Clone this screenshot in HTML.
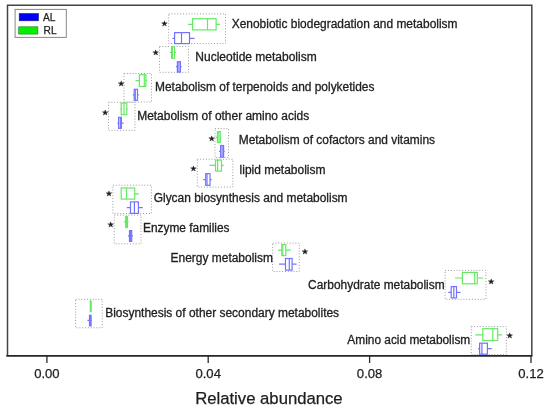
<!DOCTYPE html>
<html><head><meta charset="utf-8"><style>
html,body{margin:0;padding:0;background:#fff;}
svg{display:block;font-family:"Liberation Sans",Arial,sans-serif;}
</style></head><body>
<svg width="550" height="412" viewBox="0 0 550 412">
<rect width="550" height="412" fill="#fff"/>
<path d="M7.5 355.9V5.2H531.8V355.9" fill="none" stroke="#444" stroke-width="1.5"/>
<path d="M6.3 355.9H532.4" stroke="#262626" stroke-width="1.7"/>
<rect x="15.1" y="9.4" width="51.2" height="28.0" fill="#fff" stroke="#888" stroke-width="1"/>
<rect x="19.2" y="13.5" width="19.3" height="7.3" fill="#0000f0" stroke="#1a1a80" stroke-width="0.6"/>
<rect x="18.7" y="26.8" width="19.2" height="7.3" fill="#00f000" stroke="#1a801a" stroke-width="0.6"/>
<text x="43.0" y="20.5" font-size="10.2" fill="#1e1e1e" stroke="#1e1e1e" stroke-width="0.25">AL</text>
<text x="43.6" y="33.6" font-size="10.2" fill="#1e1e1e" stroke="#1e1e1e" stroke-width="0.25">RL</text>
<rect x="168.7" y="13.9" width="56.8" height="29.6" fill="none" stroke="#9c9c9c" stroke-width="1" stroke-dasharray="1 1.85"/>
<path d="M188.0 24.3H192.6M216.1 24.3H220.0" stroke="#66e866" stroke-width="1.2"/>
<rect x="192.6" y="18.7" width="23.5" height="11.2" fill="none" stroke="#66e866" stroke-width="1.2"/>
<path d="M207.5 18.7V29.9" stroke="#66e866" stroke-width="1.2"/>
<path d="M172.5 38.3H174.6M189.5 38.3H194.5" stroke="#7373ff" stroke-width="1.2"/>
<rect x="174.6" y="32.6" width="14.9" height="11.0" fill="none" stroke="#7373ff" stroke-width="1.2"/>
<path d="M181.5 32.6V43.6" stroke="#7373ff" stroke-width="1.2"/>
<text transform="translate(164.1 23.9) scale(1.0 0.92)" x="0.3" y="2.6" text-anchor="middle" font-size="7.7" font-family="DejaVu Sans, sans-serif" fill="#1e1e1e" stroke="#1e1e1e" stroke-width="0.35" stroke-linejoin="round">★</text>
<text x="231.7" y="28.3" font-size="12" fill="#1e1e1e" stroke="#1e1e1e" stroke-width="0.3" textLength="225.83" lengthAdjust="spacingAndGlyphs">Xenobiotic biodegradation and metabolism</text>
<rect x="159.5" y="46.5" width="29.0" height="25.8" fill="none" stroke="#9c9c9c" stroke-width="1" stroke-dasharray="1 1.85"/>
<path d="M169.8 52.3H171.6M174.5 52.3H176.1" stroke="#66e866" stroke-width="1.2"/>
<rect x="171.6" y="46.8" width="2.9" height="11.5" fill="none" stroke="#66e866" stroke-width="1.2"/>
<path d="M172.4 46.8V58.3" stroke="#66e866" stroke-width="1.2"/>
<path d="M175.9 66.7H177.4M180.4 66.7H181.6" stroke="#7373ff" stroke-width="1.2"/>
<rect x="177.4" y="61.7" width="3.0" height="10.4" fill="none" stroke="#7373ff" stroke-width="1.2"/>
<path d="M178.9 61.7V72.1" stroke="#7373ff" stroke-width="1.2"/>
<text transform="translate(155.5 52.8) scale(1.0 0.92)" x="0.3" y="2.6" text-anchor="middle" font-size="7.7" font-family="DejaVu Sans, sans-serif" fill="#1e1e1e" stroke="#1e1e1e" stroke-width="0.35" stroke-linejoin="round">★</text>
<text x="195.3" y="60.9" font-size="12" fill="#1e1e1e" stroke="#1e1e1e" stroke-width="0.3" textLength="121.39" lengthAdjust="spacingAndGlyphs">Nucleotide metabolism</text>
<rect x="124.0" y="73.5" width="27.5" height="28.5" fill="none" stroke="#9c9c9c" stroke-width="1" stroke-dasharray="1 1.85"/>
<path d="M135.5 80.7H139.4M145.9 80.7H147.2" stroke="#66e866" stroke-width="1.2"/>
<rect x="139.4" y="74.7" width="6.5" height="11.7" fill="none" stroke="#66e866" stroke-width="1.2"/>
<path d="M144.3 74.7V86.4" stroke="#66e866" stroke-width="1.2"/>
<path d="M132.9 94.9H134.2M137.5 94.9H138.7" stroke="#7373ff" stroke-width="1.2"/>
<rect x="134.2" y="89.3" width="3.3" height="11.0" fill="none" stroke="#7373ff" stroke-width="1.2"/>
<path d="M135.3 89.3V100.3" stroke="#7373ff" stroke-width="1.2"/>
<text transform="translate(121.0 83.8) scale(1.0 0.92)" x="0.3" y="2.6" text-anchor="middle" font-size="7.7" font-family="DejaVu Sans, sans-serif" fill="#1e1e1e" stroke="#1e1e1e" stroke-width="0.35" stroke-linejoin="round">★</text>
<text x="155.0" y="91.0" font-size="12" fill="#1e1e1e" stroke="#1e1e1e" stroke-width="0.3" textLength="219.40" lengthAdjust="spacingAndGlyphs">Metabolism of terpenoids and polyketides</text>
<rect x="108.5" y="102.3" width="26.5" height="28.0" fill="none" stroke="#9c9c9c" stroke-width="1" stroke-dasharray="1 1.85"/>
<path d="M120.0 109.0H121.2M126.8 109.0H127.6" stroke="#66e866" stroke-width="1.2"/>
<rect x="121.2" y="103.1" width="5.6" height="11.6" fill="none" stroke="#66e866" stroke-width="1.2"/>
<path d="M124.0 103.1V114.7" stroke="#66e866" stroke-width="1.2"/>
<path d="M117.4 123.2H118.6M121.4 123.2H123.6" stroke="#7373ff" stroke-width="1.2"/>
<rect x="118.6" y="117.3" width="2.8" height="11.0" fill="none" stroke="#7373ff" stroke-width="1.2"/>
<path d="M120.3 117.3V128.3" stroke="#7373ff" stroke-width="1.2"/>
<text transform="translate(105.0 112.3) scale(1.0 0.92)" x="0.3" y="2.6" text-anchor="middle" font-size="7.7" font-family="DejaVu Sans, sans-serif" fill="#1e1e1e" stroke="#1e1e1e" stroke-width="0.35" stroke-linejoin="round">★</text>
<text x="137.2" y="119.6" font-size="12" fill="#1e1e1e" stroke="#1e1e1e" stroke-width="0.3" textLength="172.05" lengthAdjust="spacingAndGlyphs">Metabolism of other amino acids</text>
<rect x="215.0" y="128.5" width="13.5" height="29.0" fill="none" stroke="#9c9c9c" stroke-width="1" stroke-dasharray="1 1.85"/>
<path d="M216.0 137.4H217.4M220.3 137.4H221.2" stroke="#66e866" stroke-width="1.2"/>
<rect x="217.4" y="131.6" width="2.9" height="10.9" fill="none" stroke="#66e866" stroke-width="1.2"/>
<path d="M218.9 131.6V142.5" stroke="#66e866" stroke-width="1.2"/>
<path d="M219.1 151.3H220.6M223.6 151.3H224.6" stroke="#7373ff" stroke-width="1.2"/>
<rect x="220.6" y="145.5" width="3.0" height="11.6" fill="none" stroke="#7373ff" stroke-width="1.2"/>
<path d="M222.1 145.5V157.1" stroke="#7373ff" stroke-width="1.2"/>
<text transform="translate(211.5 138.8) scale(1.0 0.92)" x="0.3" y="2.6" text-anchor="middle" font-size="7.7" font-family="DejaVu Sans, sans-serif" fill="#1e1e1e" stroke="#1e1e1e" stroke-width="0.35" stroke-linejoin="round">★</text>
<text x="238.7" y="144.4" font-size="12" fill="#1e1e1e" stroke="#1e1e1e" stroke-width="0.3" textLength="196.32" lengthAdjust="spacingAndGlyphs">Metabolism of cofactors and vitamins</text>
<rect x="197.3" y="159.2" width="35.5" height="27.9" fill="none" stroke="#9c9c9c" stroke-width="1" stroke-dasharray="1 1.85"/>
<path d="M209.5 165.3H215.5M221.5 165.3H223.7" stroke="#66e866" stroke-width="1.2"/>
<rect x="215.5" y="160.1" width="6.0" height="11.0" fill="none" stroke="#66e866" stroke-width="1.2"/>
<path d="M217.6 160.1V171.1" stroke="#66e866" stroke-width="1.2"/>
<path d="M203.3 179.6H205.7M210.0 179.6H211.7" stroke="#7373ff" stroke-width="1.2"/>
<rect x="205.7" y="173.7" width="4.3" height="11.6" fill="none" stroke="#7373ff" stroke-width="1.2"/>
<path d="M207.0 173.7V185.3" stroke="#7373ff" stroke-width="1.2"/>
<text transform="translate(193.1 168.3) scale(1.0 0.92)" x="0.3" y="2.6" text-anchor="middle" font-size="7.7" font-family="DejaVu Sans, sans-serif" fill="#1e1e1e" stroke="#1e1e1e" stroke-width="0.35" stroke-linejoin="round">★</text>
<text x="239.6" y="174.3" font-size="12" fill="#1e1e1e" stroke="#1e1e1e" stroke-width="0.3" textLength="85.85" lengthAdjust="spacingAndGlyphs">lipid metabolism</text>
<rect x="112.9" y="185.2" width="38.5" height="28.3" fill="none" stroke="#9c9c9c" stroke-width="1" stroke-dasharray="1 1.85"/>
<path d="M121.1 193.8H121.2M134.7 193.8H138.8" stroke="#66e866" stroke-width="1.2"/>
<rect x="121.2" y="188.0" width="13.5" height="11.1" fill="none" stroke="#66e866" stroke-width="1.2"/>
<path d="M126.5 188.0V199.1" stroke="#66e866" stroke-width="1.2"/>
<path d="M126.8 207.6H130.5M138.4 207.6H142.8" stroke="#7373ff" stroke-width="1.2"/>
<rect x="130.5" y="201.9" width="7.9" height="11.5" fill="none" stroke="#7373ff" stroke-width="1.2"/>
<path d="M134.4 201.9V213.4" stroke="#7373ff" stroke-width="1.2"/>
<text transform="translate(108.7 193.7) scale(1.0 0.92)" x="0.3" y="2.6" text-anchor="middle" font-size="7.7" font-family="DejaVu Sans, sans-serif" fill="#1e1e1e" stroke="#1e1e1e" stroke-width="0.35" stroke-linejoin="round">★</text>
<text x="153.7" y="202.1" font-size="12" fill="#1e1e1e" stroke="#1e1e1e" stroke-width="0.3" textLength="193.87" lengthAdjust="spacingAndGlyphs">Glycan biosynthesis and metabolism</text>
<rect x="114.2" y="215.1" width="26.8" height="28.7" fill="none" stroke="#9c9c9c" stroke-width="1" stroke-dasharray="1 1.85"/>
<path d="M123.9 221.8H125.7M127.5 221.8H128.4" stroke="#66e866" stroke-width="1.2"/>
<rect x="125.7" y="216.6" width="1.8" height="10.9" fill="none" stroke="#66e866" stroke-width="1.2"/>
<path d="M126.6 216.6V227.5" stroke="#66e866" stroke-width="1.2"/>
<path d="M128.0 235.8H129.5M131.7 235.8H132.9" stroke="#7373ff" stroke-width="1.2"/>
<rect x="129.5" y="230.6" width="2.2" height="10.8" fill="none" stroke="#7373ff" stroke-width="1.2"/>
<path d="M130.6 230.6V241.4" stroke="#7373ff" stroke-width="1.2"/>
<text transform="translate(110.3 224.5) scale(1.0 0.92)" x="0.3" y="2.6" text-anchor="middle" font-size="7.7" font-family="DejaVu Sans, sans-serif" fill="#1e1e1e" stroke="#1e1e1e" stroke-width="0.35" stroke-linejoin="round">★</text>
<text x="143.0" y="232.1" font-size="12" fill="#1e1e1e" stroke="#1e1e1e" stroke-width="0.3" textLength="86.56" lengthAdjust="spacingAndGlyphs">Enzyme families</text>
<rect x="272.6" y="243.1" width="26.7" height="28.4" fill="none" stroke="#9c9c9c" stroke-width="1" stroke-dasharray="1 1.85"/>
<path d="M278.0 250.1H281.8M285.8 250.1H290.8" stroke="#66e866" stroke-width="1.2"/>
<rect x="281.8" y="244.6" width="4.0" height="11.0" fill="none" stroke="#66e866" stroke-width="1.2"/>
<path d="M282.8 244.6V255.6" stroke="#66e866" stroke-width="1.2"/>
<path d="M279.1 264.2H285.5M292.1 264.2H296.6" stroke="#7373ff" stroke-width="1.2"/>
<rect x="285.5" y="258.5" width="6.6" height="11.6" fill="none" stroke="#7373ff" stroke-width="1.2"/>
<path d="M289.3 258.5V270.1" stroke="#7373ff" stroke-width="1.2"/>
<text transform="translate(304.6 251.6) scale(1.0 0.92)" x="0.3" y="2.6" text-anchor="middle" font-size="7.7" font-family="DejaVu Sans, sans-serif" fill="#1e1e1e" stroke="#1e1e1e" stroke-width="0.35" stroke-linejoin="round">★</text>
<text x="170.6" y="261.5" font-size="12" fill="#1e1e1e" stroke="#1e1e1e" stroke-width="0.3" textLength="102.32" lengthAdjust="spacingAndGlyphs">Energy metabolism</text>
<rect x="445.1" y="270.4" width="40.8" height="28.9" fill="none" stroke="#9c9c9c" stroke-width="1" stroke-dasharray="1 1.85"/>
<path d="M455.0 278.0H462.4M477.3 278.0H483.3" stroke="#66e866" stroke-width="1.2"/>
<rect x="462.4" y="272.4" width="14.9" height="11.4" fill="none" stroke="#66e866" stroke-width="1.2"/>
<path d="M474.7 272.4V283.8" stroke="#66e866" stroke-width="1.2"/>
<path d="M448.3 292.4H451.2M456.5 292.4H460.5" stroke="#7373ff" stroke-width="1.2"/>
<rect x="451.2" y="286.6" width="5.3" height="11.3" fill="none" stroke="#7373ff" stroke-width="1.2"/>
<path d="M453.8 286.6V297.9" stroke="#7373ff" stroke-width="1.2"/>
<text transform="translate(490.8 281.3) scale(1.0 0.92)" x="0.3" y="2.6" text-anchor="middle" font-size="7.7" font-family="DejaVu Sans, sans-serif" fill="#1e1e1e" stroke="#1e1e1e" stroke-width="0.35" stroke-linejoin="round">★</text>
<text x="308.1" y="288.5" font-size="12" fill="#1e1e1e" stroke="#1e1e1e" stroke-width="0.3" textLength="136.51" lengthAdjust="spacingAndGlyphs">Carbohydrate metabolism</text>
<rect x="75.6" y="299.3" width="26.6" height="28.5" fill="none" stroke="#9c9c9c" stroke-width="1" stroke-dasharray="1 1.85"/>
<path d="M90.7 306.4H90.3M91.1 306.4H90.7" stroke="#66e866" stroke-width="1.2"/>
<rect x="90.3" y="300.9" width="0.8" height="10.8" fill="none" stroke="#66e866" stroke-width="1.2"/>
<path d="M90.7 300.9V311.7" stroke="#66e866" stroke-width="1.2"/>
<path d="M87.4 320.4H89.5M91.1 320.4H91.6" stroke="#7373ff" stroke-width="1.2"/>
<rect x="89.5" y="315.3" width="1.6" height="10.6" fill="none" stroke="#7373ff" stroke-width="1.2"/>
<path d="M90.3 315.3V325.9" stroke="#7373ff" stroke-width="1.2"/>
<text x="105.2" y="317.4" font-size="12" fill="#1e1e1e" stroke="#1e1e1e" stroke-width="0.3" textLength="233.90" lengthAdjust="spacingAndGlyphs">Biosynthesis of other secondary metabolites</text>
<rect x="471.3" y="326.6" width="35.1" height="28.0" fill="none" stroke="#9c9c9c" stroke-width="1" stroke-dasharray="1 1.85"/>
<path d="M475.3 334.9H482.8M497.7 334.9H502.1" stroke="#66e866" stroke-width="1.2"/>
<rect x="482.8" y="328.7" width="14.9" height="11.8" fill="none" stroke="#66e866" stroke-width="1.2"/>
<path d="M492.8 328.7V340.5" stroke="#66e866" stroke-width="1.2"/>
<path d="M478.0 348.7H479.6M487.4 348.7H491.7" stroke="#7373ff" stroke-width="1.2"/>
<rect x="479.6" y="343.2" width="7.8" height="11.0" fill="none" stroke="#7373ff" stroke-width="1.2"/>
<path d="M481.9 343.2V354.2" stroke="#7373ff" stroke-width="1.2"/>
<text transform="translate(509.3 335.9) scale(1.0 0.92)" x="0.3" y="2.6" text-anchor="middle" font-size="7.7" font-family="DejaVu Sans, sans-serif" fill="#1e1e1e" stroke="#1e1e1e" stroke-width="0.35" stroke-linejoin="round">★</text>
<text x="347.3" y="343.8" font-size="12" fill="#1e1e1e" stroke="#1e1e1e" stroke-width="0.3" textLength="122.96" lengthAdjust="spacingAndGlyphs">Amino acid metabolism</text>
<path d="M46.9 356V363" stroke="#2a2a2a" stroke-width="1.3"/>
<text x="46.9" y="377.6" text-anchor="middle" font-size="13.1" fill="#1e1e1e" stroke="#1e1e1e" stroke-width="0.25">0.00</text>
<path d="M208.2 356V363" stroke="#2a2a2a" stroke-width="1.3"/>
<text x="208.2" y="377.6" text-anchor="middle" font-size="13.1" fill="#1e1e1e" stroke="#1e1e1e" stroke-width="0.25">0.04</text>
<path d="M369.6 356V363" stroke="#2a2a2a" stroke-width="1.3"/>
<text x="369.6" y="377.6" text-anchor="middle" font-size="13.1" fill="#1e1e1e" stroke="#1e1e1e" stroke-width="0.25">0.08</text>
<path d="M531.0 356V363" stroke="#2a2a2a" stroke-width="1.3"/>
<text x="531.0" y="377.6" text-anchor="middle" font-size="13.1" fill="#1e1e1e" stroke="#1e1e1e" stroke-width="0.25">0.12</text>
<text x="268.9" y="404.4" text-anchor="middle" font-size="16.7" fill="#1e1e1e" stroke="#1e1e1e" stroke-width="0.25">Relative abundance</text>
</svg>
</body></html>
